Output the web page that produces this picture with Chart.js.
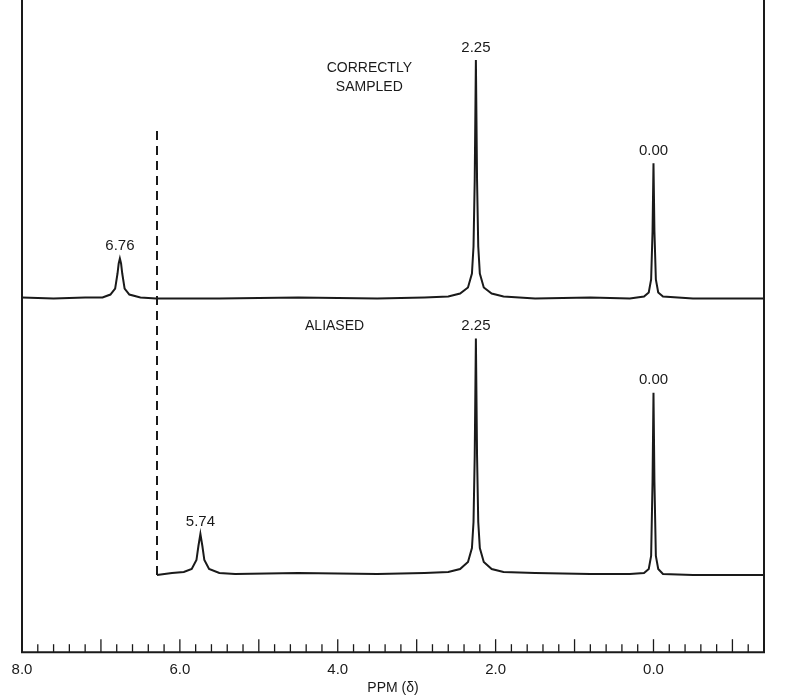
<!DOCTYPE html>
<html><head><meta charset="utf-8">
<script src="https://cdn.jsdelivr.net/npm/chart.js@4.4.1/dist/chart.umd.min.js"></script>
<style>html,body{margin:0;padding:0;background:#fff}#w{width:799px;height:697px}</style>
</head><body><div id="w"><canvas id="c"></canvas></div>
<script>
// x in ppm, y in intensity units (baseline offsets included)
const topSpectrum = [
  [8.0,354],[7.6,353],[7.2,354],[6.98,354],[6.88,357],[6.82,363],[6.79,378],[6.775,388],[6.76,393],[6.745,388],[6.73,378],[6.70,363],[6.64,357],[6.5,354],[6.3,353],
  [5.5,353],[4.5,354],[3.5,353],[2.9,354],[2.6,355],[2.45,358],[2.35,364],[2.30,378],[2.28,405],[2.265,470],[2.25,591],[2.235,470],[2.22,405],[2.20,378],[2.15,364],[2.05,358],[1.9,355],
  [1.5,353],[0.8,354],[0.3,353],[0.12,355],[0.06,359],[0.03,372],[0.012,420],[0.0,488],[-0.012,420],[-0.03,372],[-0.06,359],[-0.12,355],[-0.5,353],[-1.0,353],[-1.4,353]
];
const bottomSpectrum = [
  [6.29,77],[6.1,79],[5.95,80],[5.85,83],[5.79,92],[5.765,106],[5.74,118],[5.715,106],[5.69,92],[5.63,83],[5.5,79],[5.3,78],
  [4.5,79],[3.5,78],[2.9,79],[2.6,80],[2.45,83],[2.35,90],[2.30,104],[2.28,130],[2.265,195],[2.25,313],[2.235,195],[2.22,130],[2.20,104],[2.15,90],[2.05,83],[1.9,80],
  [1.5,79],[0.8,78],[0.3,78],[0.12,79],[0.06,83],[0.03,96],[0.012,170],[0.0,259],[-0.012,170],[-0.03,96],[-0.06,83],[-0.12,78],[-0.5,77],[-1.0,77],[-1.4,77]
];
const dashedLine = [[6.29,77],[6.29,521]];
const peakLabels = [
  {x:6.76,y:393,t:"6.76"},{x:2.25,y:591,t:"2.25"},{x:0.0,y:488,t:"0.00"},
  {x:5.74,y:118,t:"5.74"},{x:2.25,y:313,t:"2.25"},{x:0.0,y:259,t:"0.00"}
];
const titles = [
  {x:3.6,y:576,t:"CORRECTLY"},{x:3.6,y:557,t:"SAMPLED"},{x:4.04,y:318,t:"ALIASED"}
];
const xTickLabels = ["8.0","6.0","4.0","2.0","0.0"];

const pts = a => a.map(p=>({x:p[0],y:p[1]}));
const F = "'Liberation Sans', Arial, sans-serif";

const deco = {
  id:'deco',
  afterDraw(ch){
    const c=ch.ctx, xs=ch.scales.x, ys=ch.scales.y, a=ch.chartArea;
    c.save();
    c.strokeStyle='#1a1a1a'; c.lineWidth=2;
    c.beginPath(); c.moveTo(a.left,0); c.lineTo(a.left,a.bottom); c.lineTo(a.right,a.bottom); c.lineTo(a.right,0); c.stroke();
    c.lineWidth=1.3;
    for(let i=-7;i<=40;i++){
      const v=i*0.2; if(v>8.0001) break;
      const px=xs.getPixelForValue(v);
      const major=Math.abs(v-Math.round(v))<1e-6;
      c.beginPath(); c.moveTo(px,a.bottom); c.lineTo(px,a.bottom-(major?13:8)); c.stroke();
    }
    c.fillStyle='#1a1a1a'; c.textAlign='center'; c.textBaseline='bottom';
    c.font='15px '+F;
    peakLabels.forEach(l=>c.fillText(l.t,xs.getPixelForValue(l.x),ys.getPixelForValue(l.y)-5));
    c.font='14px '+F;
    titles.forEach(l=>c.fillText(l.t,xs.getPixelForValue(l.x),ys.getPixelForValue(l.y)));
    c.restore();
  }
};

new Chart(document.getElementById('c'),{
  type:'line',
  data:{datasets:[
    {data:pts(topSpectrum),borderColor:'#1a1a1a',borderWidth:2,pointRadius:0,tension:0},
    {data:pts(bottomSpectrum),borderColor:'#1a1a1a',borderWidth:2,pointRadius:0,tension:0},
    {data:pts(dashedLine),borderColor:'#1a1a1a',borderWidth:2,borderDash:[9,6],pointRadius:0}
  ]},
  options:{
    responsive:true,maintainAspectRatio:false,animation:false,
    layout:{padding:{left:22,right:35,top:0,bottom:0}},
    plugins:{legend:{display:false},tooltip:{enabled:false}},
    scales:{
      x:{type:'linear',reverse:true,min:-1.4,max:8.0,
        grid:{display:false},border:{display:false},
        afterBuildTicks(s){s.ticks=[8,6,4,2,0].map(v=>({value:v}));},
        ticks:{padding:1,maxRotation:0,autoSkip:false,color:'#1a1a1a',font:{family:F,size:15},
          callback:(v,i)=>xTickLabels[i]},
        title:{display:true,text:'PPM (δ)',color:'#1a1a1a',font:{family:F,size:14},padding:{top:0,bottom:0}}
      },
      y:{display:false,min:0,max:651}
    }
  },
  plugins:[deco]
});
</script></body></html>
